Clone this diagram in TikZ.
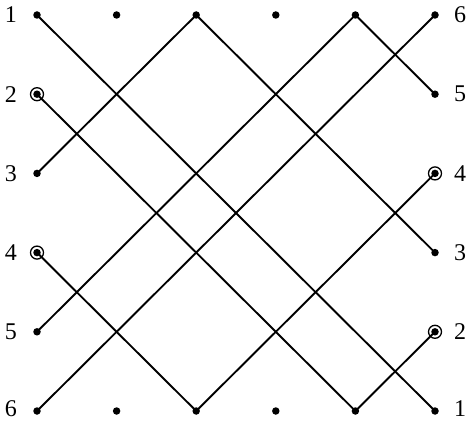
\documentclass[tikz,border=0pt]{standalone}
\usepackage{fontspec}
\setmainfont{Liberation Serif}
\begin{document}
\begin{tikzpicture}[x=1pt,y=-1pt,
  dot/.style={circle,fill=black,inner sep=0pt,minimum size=7.5pt},
  ring/.style={circle,draw=black,line width=1.3pt,inner sep=0pt,minimum size=13pt},
  lab/.style={font=\fontsize{24}{24}\selectfont,inner sep=0pt},
  wire/.style={line width=1.9pt,line cap=round}]
\useasboundingbox (0,0) rectangle (474,422);
% grid positions
\def\xa{37}\def\xb{116.6}\def\xc{196.2}\def\xd{275.8}\def\xe{355.4}\def\xf{435}
\def\ya{15}\def\yb{94.2}\def\yc{173.4}\def\yd{252.6}\def\ye{331.8}\def\yf{411}
% left column
\node[dot] (L1) at (\xa,\ya) {};
\node[dot] (L2) at (\xa,\yb) {};
\node[dot] (L3) at (\xa,\yc) {};
\node[dot] (L4) at (\xa,\yd) {};
\node[dot] (L5) at (\xa,\ye) {};
\node[dot] (L6) at (\xa,\yf) {};
% right column
\node[dot] (R6) at (\xf,\ya) {};
\node[dot] (R5) at (\xf,\yb) {};
\node[dot] (R4) at (\xf,\yc) {};
\node[dot] (R3) at (\xf,\yd) {};
\node[dot] (R2) at (\xf,\ye) {};
\node[dot] (R1) at (\xf,\yf) {};
% top row
\node[dot] (T2) at (\xb,\ya) {};
\node[dot] (T3) at (\xc,\ya) {};
\node[dot] (T4) at (\xd,\ya) {};
\node[dot] (T5) at (\xe,\ya) {};
% bottom row
\node[dot] (B2) at (\xb,\yf) {};
\node[dot] (B3) at (\xc,\yf) {};
\node[dot] (B4) at (\xd,\yf) {};
\node[dot] (B5) at (\xe,\yf) {};
% rings
\node[ring] (cL2) at (L2) {};
\node[ring] (cL4) at (L4) {};
\node[ring] (cR4) at (R4) {};
\node[ring] (cR2) at (R2) {};
% labels
\node[lab] (l1) at (11,\ya) {1};
\node[lab] (l2) at (11,\yb) {2};
\node[lab] (l3) at (11,\yc) {3};
\node[lab] (l4) at (11,\yd) {4};
\node[lab] (l5) at (11,\ye) {5};
\node[lab] (l6) at (11,409) {6};
\node[lab] (r6) at (460,\ya) {6};
\node[lab] (r5) at (460,\yb) {5};
\node[lab] (r4) at (460,\yc) {4};
\node[lab] (r3) at (460,\yd) {3};
\node[lab] (r2) at (460,\ye) {2};
\node[lab] (r1) at (460,409) {1};
% wires
\draw[wire] (L1.center) -- (R1.center);
\draw[wire] (L2.center) -- (B5.center) -- (R2.center);
\draw[wire] (L3.center) -- (T3.center) -- (R3.center);
\draw[wire] (L4.center) -- (B3.center) -- (R4.center);
\draw[wire] (L5.center) -- (T5.center) -- (R5.center);
\draw[wire] (L6.center) -- (R6.center);
\end{tikzpicture}
\end{document}
